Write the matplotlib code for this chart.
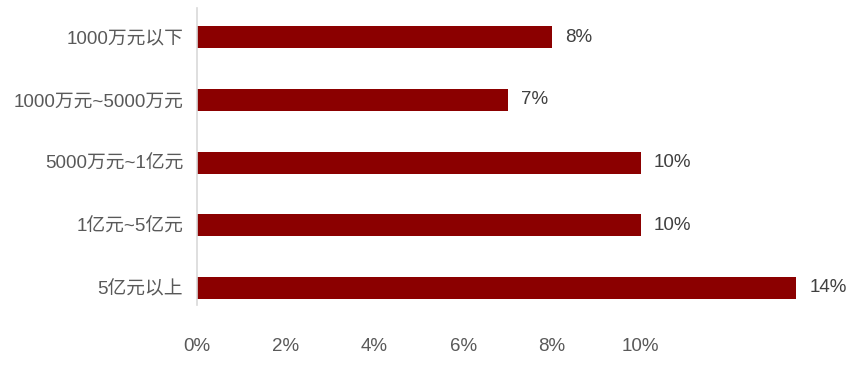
import matplotlib
matplotlib.use("Agg")
import matplotlib.pyplot as plt

plt.rcParams['font.family'] = ['Liberation Sans', 'Noto Sans CJK SC', 'DejaVu Sans']

categories = ['1000万元以下', '1000万元~5000万元', '5000万元~1亿元', '1亿元~5亿元', '5亿元以上']
values = [8.0, 7.0, 10.0, 10.0, 13.5]
xticks = [0, 2, 4, 6, 8, 10]

fig = plt.figure(figsize=(8.66, 3.74), dpi=100)
ax = fig.add_axes([0.2275, 0.185, 0.7171, 0.794])

pos = list(range(len(categories)))
ax.barh(pos, values, height=0.35, color='#8b0000')

for y, v in zip(pos, values):
    ax.text(v + 0.3, y, f"{v:.0f}%", va='center', ha='left', fontsize=13.5, color='#404040')

ax.set_ylim(len(categories) - 0.73, -0.47)
ax.set_xlim(0, 14)
ax.set_yticks(pos)
ax.set_yticklabels(categories, fontsize=13.5, color='#595959')
ax.set_xticks(xticks)
ax.set_xticklabels([f"{t}%" for t in xticks], fontsize=13.5, color='#595959')
ax.tick_params(axis='y', length=0, pad=10)
ax.tick_params(axis='x', length=0, pad=24)

for s in ['top', 'right', 'bottom']:
    ax.spines[s].set_visible(False)
ax.spines['left'].set_color('#d9d9d9')
ax.spines['left'].set_linewidth(1.2)

fig.savefig('out.png', dpi=100)
